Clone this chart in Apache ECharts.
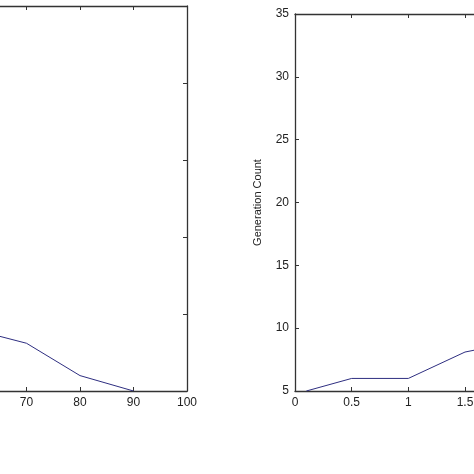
<!DOCTYPE html>
<html>
<head>
<meta charset="utf-8">
<script src="https://cdn.jsdelivr.net/npm/echarts@6/dist/echarts.min.js"></script>
<style>
html,body{margin:0;padding:0;background:#fff;overflow:hidden;width:474px;height:474px}
#chart{position:absolute;left:-200px;top:0;width:900px;height:474px}
</style>
</head>
<body>
<div id="chart"></div>
<script>
// left panel (only tail visible)
var leftX = [50, 60, 70, 80, 90];
var leftY = [9.6, 9.0, 8.1, 6.0, 5.0];
// right panel
var rightX = [0.1, 0.5, 1, 1.5, 2, 2.5];
var rightY = [5, 6, 6, 8.1, 9, 10];

function pairs(xs, ys) {
    var out = [];
    for (var i = 0; i < xs.length; i++) out.push([xs[i], ys[i]]);
    return out;
}

var lineCol = '#2e2e80';
var axisCol = '#333';
var txt = {color: '#222', fontFamily: 'Arial, Liberation Sans', fontSize: 12};

function frameAxis(grid, pos, show, opt) {
    var a = {
        type: 'value', gridIndex: grid, position: pos,
        axisLine: {show: true, onZero: false, lineStyle: {color: axisCol, width: 1.3}},
        axisTick: {show: true, inside: true, length: 4, lineStyle: {color: axisCol}},
        axisLabel: show ? Object.assign({margin: 6}, txt) : {show: false},
        splitLine: {show: false}
    };
    return Object.assign(a, opt);
}

// chart div is shifted 200px left of the page, so the visible window is a crop
var chart = echarts.init(document.getElementById('chart'));
chart.setOption({
    animation: false,
    grid: [
        {left: 173, right: 513, top: 6, bottom: 83},
        {left: 495, right: 65, top: 14, bottom: 83}
    ],
    xAxis: [
        frameAxis(0, 'bottom', true, {min: 60, max: 100, interval: 10}),
        frameAxis(0, 'top', false, {min: 60, max: 100, interval: 10}),
        frameAxis(1, 'bottom', true, {min: 0, max: 3, interval: 0.5}),
        frameAxis(1, 'top', false, {min: 0, max: 3, interval: 0.5})
    ],
    yAxis: [
        frameAxis(0, 'left', false, {min: 5, max: 30, interval: 5}),
        frameAxis(0, 'right', false, {min: 5, max: 30, interval: 5}),
        frameAxis(1, 'left', true, {min: 5, max: 35, interval: 5,
            name: 'Generation Count', nameLocation: 'middle', nameGap: 32,
            nameTextStyle: {color: '#222', fontFamily: 'Arial, Liberation Sans', fontSize: 11}}),
        frameAxis(1, 'right', false, {min: 5, max: 35, interval: 5})
    ],
    series: [
        {type: 'line', xAxisIndex: 0, yAxisIndex: 0, data: pairs(leftX, leftY),
         showSymbol: false, lineStyle: {color: lineCol, width: 1}},
        {type: 'line', xAxisIndex: 2, yAxisIndex: 2, data: pairs(rightX, rightY),
         showSymbol: false, lineStyle: {color: lineCol, width: 1}}
    ]
});
</script>
</body>
</html>
